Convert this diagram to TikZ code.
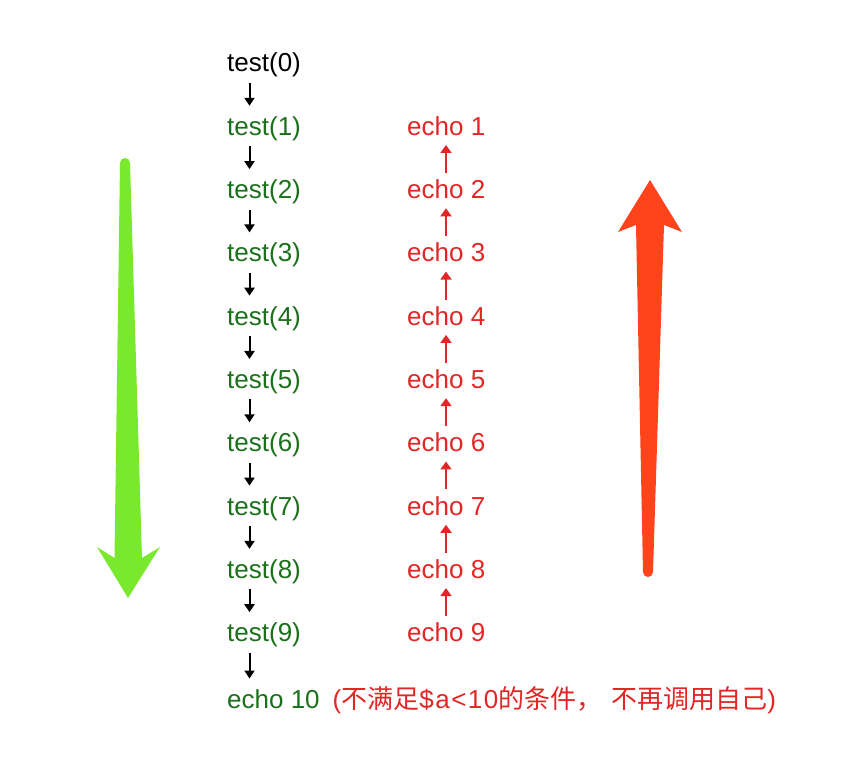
\documentclass[tikz,border=0pt]{standalone}
\usepackage{fontspec}
\setmainfont{Liberation Sans}
\newfontfamily\cjk{Noto Sans CJK SC}
\usetikzlibrary{arrows.meta}
\definecolor{tgreen}{RGB}{28,112,28}
\definecolor{tred}{RGB}{226,38,38}
\definecolor{bgreen}{RGB}{122,232,44}
\definecolor{bred}{RGB}{255,68,28}
\newcommand\zh[1]{{\cjk #1}}
\tikzset{
  lbl/.style={inner sep=0pt, anchor=base west, font=\fontsize{26}{30}\selectfont},
  calltxt/.style={lbl, text=tgreen},
  echotxt/.style={lbl, text=tred},
  darr/.style={black, line width=2pt, -{Triangle[width=10pt,length=8pt]}},
  uarr/.style={tred, line width=1.8pt, -{Triangle[width=11pt,length=8pt]}},
}
\begin{document}
\begin{tikzpicture}[x=1pt,y=1pt]
\useasboundingbox (0,0) rectangle (868,764);
% big green arrow (down)
\fill[bgreen] (120,601) -- (114.5,206) -- (97,217) -- (128,166) -- (160,217) -- (142,206) -- (130,601) arc[start angle=0,end angle=180,radius=5] -- cycle;
% big red arrow (up)
\fill[bred] (643,192) -- (636,539) -- (618,532) -- (650,584) -- (682,532) -- (664,539) -- (653,192) arc[start angle=0,end angle=-180,radius=5] -- cycle;
% left column
\node[lbl] (t0) at (227,692) {test(0)};
\foreach \k in {1,...,9} {
  \node[calltxt] (t\k) at (227,{692-63.3*\k}) {test(\k)};
  \node[echotxt] (e\k) at (407,{692-63.3*\k}) {echo \k};
}
\node[calltxt] (t10) at (227,56) {echo 10\hspace{13pt}\textcolor{tred}{(\zh{不满足}\$\kern1.5pt a\kern1.5pt<\kern1.5pt 1\kern1.5pt 0\zh{的条件\makebox[35pt][l]{，}不再调用自己})}};
% down arrows
\foreach \a/\b in {0/1,1/2,2/3,3/4,4/5,5/6,6/7,7/8,8/9,9/10}
  \draw[darr] ([xshift=22.5pt,yshift=-11pt]t\a.base west) -- ([xshift=22.5pt,yshift=29.5pt]t\b.base west);
% up arrows
\foreach \a/\b in {2/1,3/2,4/3,5/4,6/5,7/6,8/7,9/8}
  \draw[uarr] ([xshift=39pt,yshift=25.6pt]e\a.base west) -- ([xshift=39pt,yshift=-9.7pt]e\b.base west);
\end{tikzpicture}
\end{document}
